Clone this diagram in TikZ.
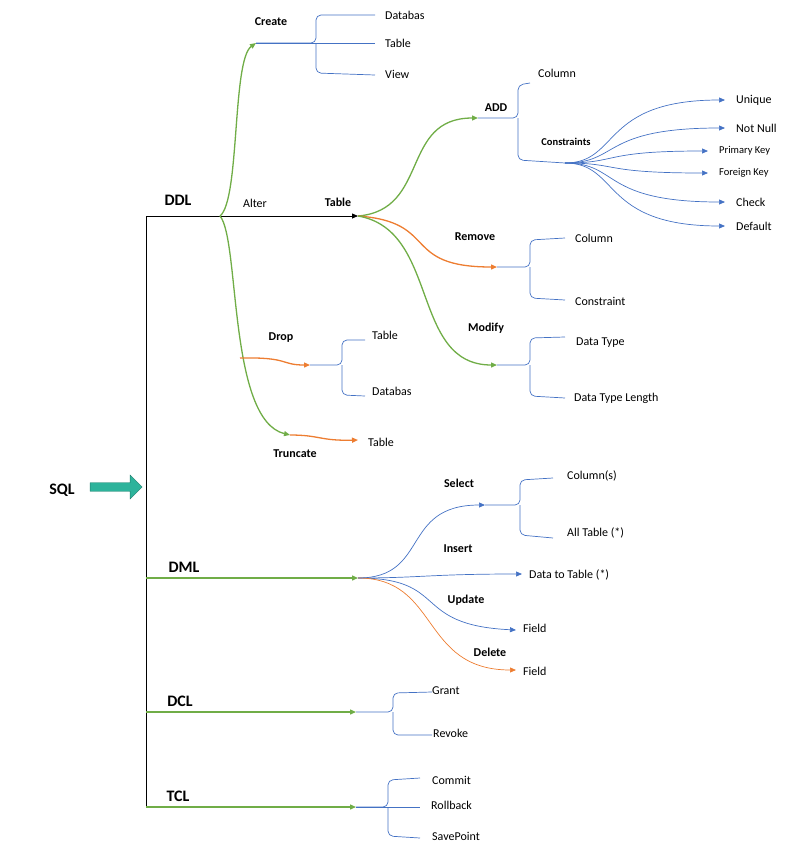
\documentclass[tikz,border=0pt]{standalone}
\usepackage{fontspec}
\setmainfont{Carlito}
\usetikzlibrary{arrows.meta,shapes.arrows}
\definecolor{gr}{HTML}{70AD47}
\definecolor{orr}{HTML}{ED7D31}
\definecolor{bl}{HTML}{4472C4}
\definecolor{teal2}{HTML}{2DB39B}
\tikzset{
 lab/.style={font=\fontsize{12}{14}\selectfont, inner sep=0pt},
 blab/.style={font=\bfseries\fontsize{12}{14}\selectfont, inner sep=0pt},
 slab/.style={font=\fontsize{10.5}{12}\selectfont, inner sep=0pt},
 sblab/.style={font=\bfseries\fontsize{10.5}{12}\selectfont, inner sep=0pt},
 big/.style={font=\bfseries\fontsize{16}{18}\selectfont, inner sep=0pt},
 tip/.style={-{Triangle[length=6pt,width=5pt]}},
 gline/.style={gr, line width=1.3pt, tip},
 oline/.style={orr, line width=1.3pt, tip},
 bline/.style={bl, line width=0.7pt},
 brk/.style={bl, line width=0.7pt, rounded corners=5pt},
}
\begin{document}
\begin{tikzpicture}[x=1pt,y=-1pt]
\useasboundingbox (0,0) rectangle (802,852);
% main spine
\coordinate (top) at (146,216); \coordinate (bot) at (146,808);
\draw[black, line width=0.8pt] (top) -- (bot);
% SQL
\node[big] (sql) at (62,490) {SQL};
\node[single arrow, fill=teal2, draw=teal2!70!black, minimum height=52pt, minimum width=24pt, single arrow head extend=4pt, inner sep=2pt] (sqlarrow) at (114,487) {};
% DDL
\coordinate (B) at (220,216); \coordinate (T) at (358,216);
\node[big] (ddl) at (178,200) {DDL};
\draw[black, line width=0.8pt, tip] (top) -- (T);
\node[lab] (alter) at (255,203) {Alter};
\node[blab] (table1) at (338,202) {Table};
% Create
\coordinate (cr) at (256,43);
\draw[gline] (B) .. controls (240,200) and (232,60) .. (cr);
\node[blab] (create) at (271,22) {Create};
\draw[brk] (cr) -- (316,43) -- (316,15) -- (375,15);
\draw[bline] (cr) -- (375,43);
\draw[brk] (316,43) -- (316,73) -- (375,75);
\node[lab,anchor=west] (c1) at (385,15) {Databas};
\node[lab,anchor=west] (c2) at (385,43) {Table};
\node[lab,anchor=west] (c3) at (385,74) {View};
% Drop / Truncate
\coordinate (tr) at (290,435); \coordinate (dr0) at (240,358); \coordinate (dr) at (310,365);
\draw[gline] (B) .. controls (240,240) and (228,420) .. (tr);
\draw[oline] (dr0) .. controls (290,357) and (280,365) .. (dr);
\node[blab] (drop) at (281,338) {Drop};
\draw[brk] (dr) -- (342,365) -- (342,340) -- (365,340);
\draw[brk] (342,365) -- (342,395) -- (365,396);
\node[lab,anchor=west] (d1) at (372,335) {Table};
\node[lab,anchor=west] (d2) at (372,391) {Databas};
\coordinate (tr2) at (358,440);
\draw[oline] (tr) .. controls (320,435) and (320,441) .. (tr2);
\node[blab] (trunc) at (295,454) {Truncate};
\node[lab,anchor=west] (t1) at (368,442) {Table};
% ALTER table
\coordinate (add) at (478,118); \coordinate (rem) at (497,267); \coordinate (mod) at (497,365);
\draw[gline] (T) .. controls (430,210) and (400,118) .. (add);
\draw[oline] (T) .. controls (440,222) and (400,267) .. (rem);
\draw[gline] (T) .. controls (440,230) and (410,365) .. (mod);
\node[blab] (addl) at (496,108) {ADD};
\node[blab] (reml) at (475,237) {Remove};
\node[blab] (modl) at (486,328) {Modify};
% ADD bracket
\coordinate (C) at (565,163);
\draw[brk] (add) -- (518,118) -- (518,85) -- (530,83);
\draw[brk] (518,118) -- (518,160) -- (C);
\node[lab,anchor=west] (a1) at (538,73) {Column};
\node[sblab] (cons) at (566,142) {Constraints};
\foreach \y/\xe/\t/\s/\n in {100/725/Unique/lab/u1,128/725/Not Null/lab/u2,151/708/Primary Key/slab/u3,173/708/Foreign Key/slab/u4,202/725/Check/lab/u5,226/725/Default/lab/u6}{
  \node[\s,anchor=west] (\n) at (\xe+11,\y) {\t};
  \draw[bline, tip] (C) .. controls (620,163) and (600,\y) .. (\xe,\y);
}
% Remove bracket
\draw[brk] (rem) -- (530,267) -- (530,240) -- (565,238);
\draw[brk] (530,267) -- (530,298) -- (565,300);
\node[lab,anchor=west] (r1) at (575,238) {Column};
\node[lab,anchor=west] (r2) at (575,301) {Constraint};
% Modify bracket
\draw[brk] (mod) -- (530,365) -- (530,338) -- (565,337);
\draw[brk] (530,365) -- (530,396) -- (565,398);
\node[lab,anchor=west] (m1) at (576,343) {Data Type};
\node[lab,anchor=west] (m2) at (574,398) {Data Type Length};
% DML
\coordinate (dmlS) at (146,578); \coordinate (D) at (358,578);
\node[big] (dml) at (184,567) {DML};
\draw[gline] (dmlS) -- (D);
\coordinate (sel) at (485,505);
\draw[bline, tip] (D) .. controls (430,578) and (400,505) .. (sel);
\node[blab] (sell) at (459,483) {Select};
\draw[brk] (sel) -- (520,505) -- (520,480) -- (553,478);
\draw[brk] (520,505) -- (520,535) -- (553,538);
\node[lab,anchor=west] (s1) at (567,476) {Column(s)};
\node[lab,anchor=west] (s2) at (567,533) {All Table (*)};
\coordinate (ins) at (522,574);
\draw[bline, tip] (D) .. controls (420,578) and (430,574) .. (ins);
\node[blab] (insl) at (458,549) {Insert};
\node[lab,anchor=west] (i1) at (529,575) {Data to Table (*)};
\coordinate (upd) at (516,630);
\draw[bline, tip] (D) .. controls (450,578) and (410,625) .. (upd);
\node[blab] (updl) at (466,600) {Update};
\node[lab,anchor=west] (u1f) at (523,628) {Field};
\coordinate (del) at (516,670);
\draw[orr, line width=0.7pt, tip] (D) .. controls (440,578) and (420,670) .. (del);
\node[blab] (dell) at (490,652) {Delete};
\node[lab,anchor=west] (d1f) at (523,671) {Field};
% DCL
\coordinate (dclS) at (146,712); \coordinate (DC) at (356,712);
\node[big] (dcl) at (180,701) {DCL};
\draw[gline] (dclS) -- (DC);
\draw[brk] (DC) -- (393,712) -- (393,693) -- (432,692);
\draw[brk] (393,712) -- (393,735) -- (432,735);
\node[lab,anchor=west] (g1) at (432,691) {Grant};
\node[lab,anchor=west] (g2) at (433,733) {Revoke};
% TCL
\coordinate (tclS) at (146,807); \coordinate (TC) at (356,807);
\node[big] (tcl) at (178,796) {TCL};
\draw[gline] (tclS) -- (TC);
\draw[brk] (TC) -- (388,807) -- (388,780) -- (420,778);
\draw[bline] (TC) -- (420,807);
\draw[brk] (388,807) -- (388,836) -- (420,838);
\node[lab,anchor=west] (k1) at (432,780) {Commit};
\node[lab,anchor=west] (k2) at (431,805) {Rollback};
\node[lab,anchor=west] (k3) at (432,836) {SavePoint};
\end{tikzpicture}
\end{document}
